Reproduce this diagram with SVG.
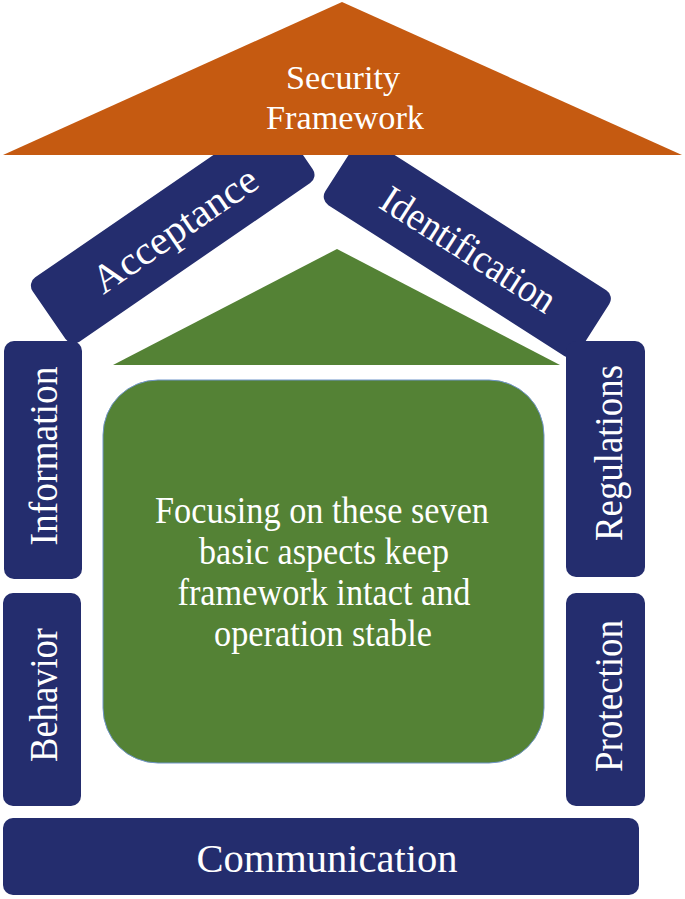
<svg xmlns="http://www.w3.org/2000/svg" width="685" height="899" viewBox="0 0 685 899">
  <style>
    .blk { fill: #242D6E; }
    .lbl { fill: #ffffff; font-family: "Liberation Serif", "Times New Roman", serif; font-size: 40px; text-anchor: middle; }
    .mid { font-size: 38px; }
    .green { fill: #548235; }
    .roof { fill: #C55A11; }
  </style>
  <rect width="685" height="899" fill="#ffffff"/>
  <g id="acceptance" transform="translate(172.7,230.2) rotate(-34.5)">
    <rect class="blk" x="-150" y="-39" width="300" height="78" rx="10"/>
    <text class="lbl" x="2" y="14" textLength="192" lengthAdjust="spacingAndGlyphs">Acceptance</text>
  </g>
  <g id="identification" transform="translate(467.3,247.7) rotate(32.6)">
    <rect class="blk" x="-150" y="-39" width="300" height="78" rx="10"/>
    <text class="lbl" x="2" y="14" textLength="200" lengthAdjust="spacingAndGlyphs">Identification</text>
  </g>
  <g id="information">
    <rect class="blk" x="4" y="341" width="78" height="238" rx="10"/>
    <text class="lbl" transform="translate(57,456) rotate(-90)" textLength="179" lengthAdjust="spacingAndGlyphs">Information</text>
  </g>
  <g id="regulations">
    <rect class="blk" x="566" y="341" width="79" height="236" rx="10"/>
    <text class="lbl" transform="translate(622,453) rotate(-90)" textLength="176" lengthAdjust="spacingAndGlyphs">Regulations</text>
  </g>
  <g id="behavior">
    <rect class="blk" x="3" y="593" width="78" height="213" rx="10"/>
    <text class="lbl" transform="translate(57,695) rotate(-90)" textLength="134" lengthAdjust="spacingAndGlyphs">Behavior</text>
  </g>
  <g id="protection">
    <rect class="blk" x="566" y="593" width="79" height="213" rx="10"/>
    <text class="lbl" transform="translate(622,696) rotate(-90)" textLength="152" lengthAdjust="spacingAndGlyphs">Protection</text>
  </g>
  <g id="communication">
    <rect class="blk" x="3" y="818" width="636" height="77" rx="10"/>
    <text class="lbl" x="327" y="872" textLength="261" lengthAdjust="spacingAndGlyphs">Communication</text>
  </g>
  <g id="inner-roof">
    <polygon class="green" points="337,249 113,365 560,365"/>
  </g>
  <g id="core">
    <rect class="green" x="103" y="380" width="441" height="383" rx="55" stroke="#6F94C8" stroke-width="1"/>
    <text class="lbl mid" x="322" y="523" textLength="334" lengthAdjust="spacingAndGlyphs">Focusing on these seven</text>
    <text class="lbl mid" x="324" y="564" textLength="250" lengthAdjust="spacingAndGlyphs">basic aspects keep</text>
    <text class="lbl mid" x="324" y="605" textLength="293" lengthAdjust="spacingAndGlyphs">framework intact and</text>
    <text class="lbl mid" x="323" y="646" textLength="218" lengthAdjust="spacingAndGlyphs">operation stable</text>
  </g>
  <g id="security-framework">
    <polygon class="roof" points="342,2 3,155 682,155"/>
    <text class="lbl" style="font-size:34px" x="343" y="89" textLength="114" lengthAdjust="spacingAndGlyphs">Security</text>
    <text class="lbl" style="font-size:34px" x="345" y="129" textLength="158" lengthAdjust="spacingAndGlyphs">Framework</text>
  </g>
  <g id="connectors"></g>
</svg>
